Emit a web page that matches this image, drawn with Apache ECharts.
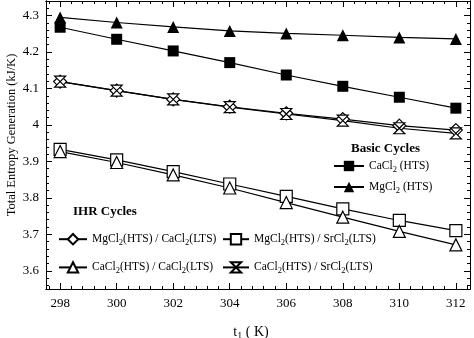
<!DOCTYPE html>
<html>
<head>
<meta charset="utf-8">
<script src="https://cdn.jsdelivr.net/npm/echarts@6/dist/echarts.min.js"></script>
<style>
html, body { margin: 0; padding: 0; background: #fff; }
#chart { width: 474px; height: 338px; }
</style>
</head>
<body>
<div id="chart"></div>
<script>
// data
var t1 = [298, 300, 302, 304, 306, 308, 310, 312];
var cacl2Basic = [4.268, 4.235, 4.203, 4.171, 4.137, 4.106, 4.076, 4.046];
var mgcl2Basic = [4.295, 4.281, 4.269, 4.258, 4.251, 4.246, 4.240, 4.236];
var mgCa = [4.119, 4.094, 4.070, 4.050, 4.032, 4.016, 3.998, 3.986];
var mgSr = [3.933, 3.904, 3.872, 3.838, 3.804, 3.770, 3.738, 3.710];
var caCa = [3.927, 3.897, 3.863, 3.827, 3.787, 3.747, 3.708, 3.671];
var caSr = [4.119, 4.094, 4.070, 4.049, 4.030, 4.012, 3.991, 3.977];

var xTicks = [298, 300, 302, 304, 306, 308, 310, 312];
var yTicks = [3.6, 3.7, 3.8, 3.9, 4, 4.1, 4.2, 4.3];

var xMinor = [];
for (var i = 0; i < 38; i++) xMinor.push(+(297.6 + i * 0.4).toFixed(2));
var yMinor = [];
for (var j = 0; j < 40; j++) yMinor.push(+(3.56 + j * 0.02).toFixed(2));

var font = 'Liberation Serif';
var black = '#000';

function xAxisOf(pos, ticks, len, labels) {
  return {
    type: 'value', min: 297.5, max: 312.5, position: pos,
    axisLine: { show: true, onZero: false, lineStyle: { color: black, width: 1 } },
    axisTick: { show: true, inside: true, length: len, customValues: ticks, lineStyle: { color: black } },
    axisLabel: { show: labels, customValues: ticks, color: black, fontSize: 13, fontFamily: font, margin: 8 },
    splitLine: { show: false }
  };
}
function yAxisOf(pos, ticks, len, labels) {
  return {
    type: 'value', min: 3.55, max: 4.34, position: pos,
    axisLine: { show: true, onZero: false, lineStyle: { color: black, width: 1 } },
    axisTick: { show: true, inside: true, length: len, customValues: ticks, lineStyle: { color: black } },
    axisLabel: { show: labels, customValues: ticks, color: black, fontSize: 13, fontFamily: font, margin: 7 },
    splitLine: { show: false }
  };
}

var xMain = xAxisOf('bottom', xTicks, 6, true);
xMain.name = 't{s|1} ( K)';
xMain.nameLocation = 'middle';
xMain.nameGap = 34;
xMain.nameTextStyle = { color: black, fontSize: 14, fontFamily: font, padding: [0, 14, 0, 0],
  rich: { s: { fontSize: 10, fontFamily: font, padding: [8, 0, 0, 0] } } };

var yMain = yAxisOf('left', yTicks, 6, true);
yMain.name = 'Total Entropy Generation (kJ/K)';
yMain.nameLocation = 'middle';
yMain.nameGap = 28;
yMain.nameMoveOverlap = false;
yMain.nameTextStyle = { color: black, fontSize: 12.5, fontFamily: font, padding: [0, 0, 0, 20] };

function series(name, data, symbol, size, filled) {
  return {
    name: name, type: 'line', data: data.map(function (v, k) { return [t1[k], v]; }),
    symbol: symbol, symbolSize: size, showSymbol: true,
    lineStyle: { color: black, width: 1.2 },
    itemStyle: filled ? { color: black } : { color: '#fff', borderColor: black, borderWidth: 1.2 },
    emphasis: { disabled: true },
    animation: false
  };
}

var hourglass = 'path://M0,0 L10,0 L0,10 L10,10 Z';

var sub = { s: { fontSize: 8.5, fontFamily: font, padding: [7, 0, 0, 0] } };
function fmt(name) { return name.replace(/Cl2/g, 'Cl{s|2}'); }
function legendOf(left, top, names, width, gap) {
  return {
    left: left, top: top, orient: 'vertical', data: names, padding: 0,
    itemWidth: width, itemHeight: 13, itemGap: gap,
    formatter: fmt, selectedMode: false,
    textStyle: { color: black, fontSize: 11.5, fontFamily: font, rich: sub }
  };
}

var chart = echarts.init(document.getElementById('chart'));
chart.setOption({
  backgroundColor: '#fff',
  animation: false,
  grid: { left: 46, right: 4, top: 1, bottom: 49, outerBoundsMode: 'none' },
  xAxis: [
    xMain,
    xAxisOf('bottom', xMinor, 3, false),
    xAxisOf('top', xTicks, 6, false),
    xAxisOf('top', xMinor, 3, false)
  ],
  yAxis: [
    yMain,
    yAxisOf('left', yMinor, 3, false),
    yAxisOf('right', yTicks, 6, false),
    yAxisOf('right', yMinor, 3, false)
  ],
  legend: [
    legendOf(333, 160, ['CaCl2 (HTS)', 'MgCl2 (HTS)'], 30, 7),
    legendOf(58, 233, ['MgCl2(HTS) / CaCl2(LTS)', 'CaCl2(HTS) / CaCl2(LTS)'], 28, 14),
    legendOf(222, 233, ['MgCl2(HTS) / SrCl2(LTS)', 'CaCl2(HTS) / SrCl2(LTS)'], 26, 14)
  ],
  graphic: [
    { type: 'text', left: 351, top: 142, style: { text: 'Basic Cycles', font: 'bold 13px "Liberation Serif"', fill: black } },
    { type: 'text', left: 73, top: 205, style: { text: 'IHR Cycles', font: 'bold 13px "Liberation Serif"', fill: black } }
  ],
  series: [
    series('CaCl2 (HTS)', cacl2Basic, 'rect', 11, true),
    series('MgCl2 (HTS)', mgcl2Basic, 'triangle', 12, true),
    series('MgCl2(HTS) / CaCl2(LTS)', mgCa, 'diamond', 13, false),
    series('MgCl2(HTS) / SrCl2(LTS)', mgSr, 'rect', 12, false),
    series('CaCl2(HTS) / CaCl2(LTS)', caCa, 'triangle', 12, false),
    series('CaCl2(HTS) / SrCl2(LTS)', caSr, hourglass, [11, 11], false)
  ]
});
</script>
</body>
</html>
